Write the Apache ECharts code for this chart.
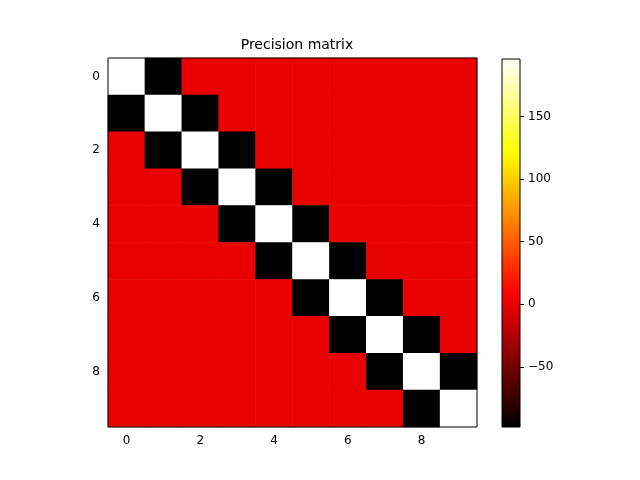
<!DOCTYPE html>
<html>
<head>
<meta charset="utf-8">
<script src="https://cdn.jsdelivr.net/npm/echarts@6/dist/echarts.min.js"></script>
</head>
<body style="margin:0">
<div id="main" style="width:640px;height:480px;"></div>
<script>
var labels = ['0','1','2','3','4','5','6','7','8','9'];
var diagValue = 196;
var offDiagValue = -98;
var restValue = 0;
var vmin = -98, vmax = 196;
var colorbarTicks = [-50, 0, 50, 100, 150];

var data = [];
for (var i = 0; i < labels.length; i++) {
    for (var j = 0; j < labels.length; j++) {
        var v = i === j ? diagValue : (Math.abs(i - j) === 1 ? offDiagValue : restValue);
        data.push([j, i, v]);
    }
}

// matplotlib 'hot' colormap
function hot(t) {
    var r = Math.min(1, t / 0.365079);
    var g = Math.max(0, Math.min(1, (t - 0.365079) / (0.746032 - 0.365079)));
    var b = Math.max(0, Math.min(1, (t - 0.746032) / (1 - 0.746032)));
    return 'rgb(' + Math.round(r * 255) + ',' + Math.round(g * 255) + ',' + Math.round(b * 255) + ')';
}
var colors = [], stops = [];
for (var k = 0; k <= 40; k++) {
    colors.push(hot(k / 40));
    stops.push({offset: 1 - k / 40, color: hot(k / 40)});
}

var myChart = echarts.init(document.getElementById('main'));
var font = 'DejaVu Sans';
myChart.setOption({
    animation: false,
    title: {text: 'Precision matrix', left: 292, top: 33, textAlign: 'center',
        textStyle: {fontFamily: font, fontSize: 14, fontWeight: 'normal', color: '#000'}},
    grid: [
        {left: 108, top: 58, width: 369, height: 369, show: true, borderColor: '#000', borderWidth: 1, backgroundColor: 'transparent', z: 10},
        {left: 502, top: 59, width: 18, height: 368}
    ],
    xAxis: [
        {type: 'category', data: labels, gridIndex: 0, position: 'bottom',
            axisLine: {show: false},
            axisTick: {interval: 1, alignWithLabel: true, length: 4, lineStyle: {color: '#000'}},
            axisLabel: {interval: 1, color: '#000', fontFamily: font, fontSize: 12},
            splitLine: {show: false}},
        {type: 'category', data: ['c'], gridIndex: 1, show: false}
    ],
    yAxis: [
        {type: 'category', data: labels, gridIndex: 0, inverse: true,
            axisLine: {show: false},
            axisTick: {interval: 1, alignWithLabel: true, length: 4, lineStyle: {color: '#000'}},
            axisLabel: {interval: 1, color: '#000', fontFamily: font, fontSize: 12},
            splitLine: {show: false}},
        {type: 'value', gridIndex: 1, min: vmin, max: vmax, position: 'right',
            axisLine: {show: false},
            axisTick: {show: true, length: 4, lineStyle: {color: '#000'},
                customValues: colorbarTicks},
            axisLabel: {color: '#000', fontFamily: font, fontSize: 12,
                customValues: colorbarTicks, formatter: function (v) { return v < 0 ? '\u2212' + (-v) : v; }},
            splitLine: {show: false}}
    ],
    visualMap: {show: false, min: vmin, max: vmax, inRange: {color: colors}, seriesIndex: 0},
    series: [{type: 'heatmap', xAxisIndex: 0, yAxisIndex: 0, data: data, itemStyle: {borderWidth: 0}}],
    graphic: [{type: 'rect', shape: {x: 502, y: 59, width: 18, height: 368},
        style: {fill: new echarts.graphic.LinearGradient(0, 0, 0, 1, stops), stroke: '#000', lineWidth: 1}, z: 0}]
});
</script>
</body>
</html>
